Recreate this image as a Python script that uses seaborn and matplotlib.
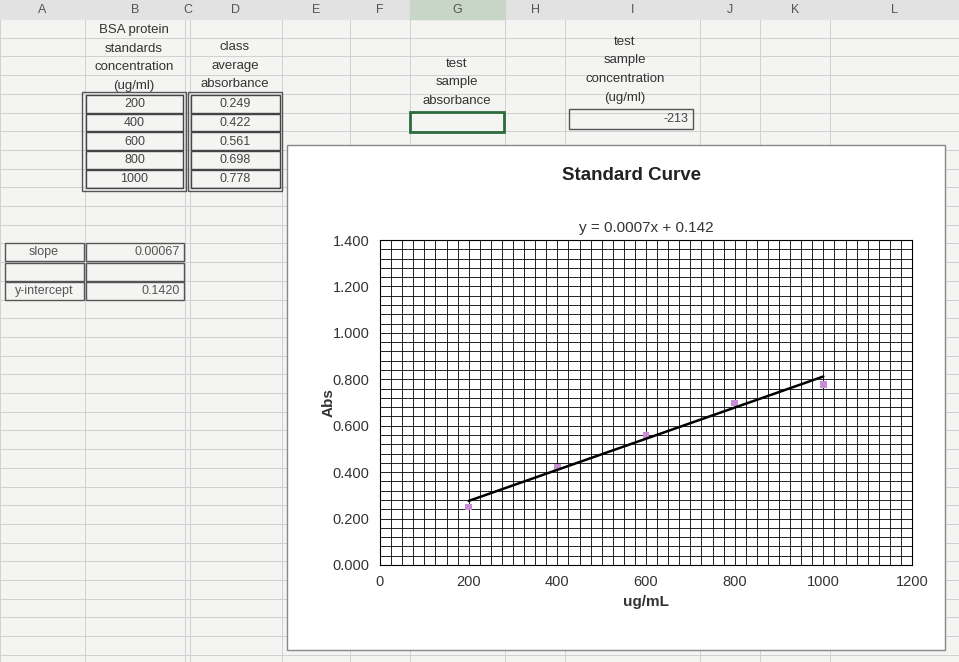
import numpy as np
import matplotlib.pyplot as plt
import seaborn as sns
import pandas as pd

sns.set_style("white")
plt.rcParams['font.family'] = ['Liberation Sans', 'DejaVu Sans']

# data
conc = [200, 400, 600, 800, 1000]
absorb = [0.249, 0.422, 0.561, 0.698, 0.778]
slope = 0.00067
intercept = 0.1420
col_names = ["A", "B", "C", "D", "E", "F", "G", "H", "I", "J", "K", "L"]
col_edges = [0, 85, 185, 190, 282, 350, 410, 505, 565, 700, 760, 830, 959]

fig = plt.figure(figsize=(9.59, 6.62), dpi=100)
bg = fig.add_axes([0, 0, 1, 1])
bg.set_xlim(0, 959)
bg.set_ylim(662, 0)
bg.axis("off")
bg.add_patch(plt.Rectangle((0, 0), 959, 662, color="#f4f4f2", zorder=0))

# spreadsheet grid
row_h = 18.7
for i in range(40):
    y = 19 + i * row_h
    bg.plot([0, 959], [y, y], color="#d0d0d0", lw=0.7, zorder=1)
for x in col_edges:
    bg.plot([x, x], [0, 662], color="#d0d0d0", lw=0.7, zorder=1)
bg.add_patch(plt.Rectangle((0, 0), 959, 19, color="#e2e2e2", zorder=1))
for i, name in enumerate(col_names):
    bg.text((col_edges[i] + col_edges[i + 1]) / 2, 10, name, ha="center", va="center",
            fontsize=9, color="#555555", zorder=2)
bg.add_patch(plt.Rectangle((410, 0), 95, 19, color="#c8d6c8", zorder=1))

hdr = dict(ha="center", va="center", fontsize=9.5, color="#333333", zorder=3)
for k, t in enumerate(["BSA protein", "standards", "concentration", "(ug/ml)"]):
    bg.text(134, 30 + k * 18.5, t, **hdr)
for k, t in enumerate(["class", "average", "absorbance"]):
    bg.text(235, 47 + k * 18.5, t, **hdr)
for k, t in enumerate(["test", "sample", "absorbance"]):
    bg.text(457, 64 + k * 18.5, t, **hdr)
for k, t in enumerate(["test", "sample", "concentration", "(ug/ml)"]):
    bg.text(625, 42 + k * 18.5, t, **hdr)

for i, (c, a) in enumerate(zip(conc, absorb)):
    y = 95 + i * row_h
    for x0, w, txt in [(86, 97, str(c)), (191, 89, f"{a:.3f}")]:
        bg.add_patch(plt.Rectangle((x0, y), w, row_h - 1, fill=False, ec="#444444", lw=1, zorder=3))
        bg.text(x0 + w / 2, y + row_h / 2, txt, ha="center", va="center", fontsize=9,
                color="#444444", zorder=3)
bg.add_patch(plt.Rectangle((82, 92), 104, 5 * row_h + 5, fill=False, ec="#555555", lw=1, zorder=3))
bg.add_patch(plt.Rectangle((188, 92), 94, 5 * row_h + 5, fill=False, ec="#555555", lw=1, zorder=3))

bg.add_patch(plt.Rectangle((410, 112), 94, 20, fill=False, ec="#2e6b3c", lw=2, zorder=3))
bg.add_patch(plt.Rectangle((569, 109), 124, 20, fill=False, ec="#555555", lw=1, zorder=3))
bg.text(688, 119, "-213", ha="right", va="center", fontsize=9, color="#444444", zorder=3)

for k, (lab, val) in enumerate([("slope", f"{slope:.5f}"), ("", ""), ("y-intercept", f"{intercept:.4f}")]):
    y = 243 + k * 19.5
    bg.add_patch(plt.Rectangle((5, y), 79, 18, fill=False, ec="#555555", lw=1, zorder=3))
    bg.add_patch(plt.Rectangle((86, y), 98, 18, fill=False, ec="#555555", lw=1, zorder=3))
    bg.text(44, y + 9, lab, ha="center", va="center", fontsize=9, color="#555555", zorder=3)
    bg.text(180, y + 9, val, ha="right", va="center", fontsize=9, color="#555555", zorder=3)

# chart area
bg.add_patch(plt.Rectangle((287, 145), 658, 505, fc="white", ec="#888888", lw=1, zorder=4))
bg.text(631, 176, "Standard Curve", ha="center", va="center", fontsize=13.5,
        fontweight="bold", color="#222222", zorder=5)

ax = fig.add_axes([380 / 959, 1 - 565 / 662, 532 / 959, 325 / 662], zorder=5)
df = pd.DataFrame({"conc": conc, "abs": absorb})
sns.scatterplot(data=df, x="conc", y="abs", marker="s", s=22, color="#c98fd6",
                edgecolor="none", ax=ax, zorder=4)
xs = np.array([conc[0], conc[-1]])
sns.lineplot(x=xs, y=slope * xs + intercept, color="black", lw=1.8, ax=ax, zorder=5)
ax.set_xlim(0, 1200)
ax.set_ylim(0, 1.4)
ax.set_xticks(np.arange(0, 1201, 200))
ax.set_yticks(np.arange(0, 1.41, 0.2))
ax.set_yticklabels([f"{v:.3f}" for v in np.arange(0, 1.41, 0.2)])
ax.set_xticks(np.arange(0, 1201, 25), minor=True)
ax.set_yticks(np.arange(0, 1.401, 0.04), minor=True)
ax.grid(which="both", color="black", lw=0.6)
ax.tick_params(which="minor", length=0)
ax.tick_params(which="major", direction="out", length=4, labelsize=10.5, colors="#333333")
for s in ax.spines.values():
    s.set_color("black")
ax.set_xlabel("ug/mL", fontsize=11, fontweight="bold", color="#333333")
ax.set_ylabel("Abs", fontsize=11, fontweight="bold", color="#333333", labelpad=-2)
ax.text(600, 1.42, "y = 0.0007x + 0.142", ha="center", va="bottom", fontsize=11, color="#333333")

fig.savefig("out.png", dpi=100)
